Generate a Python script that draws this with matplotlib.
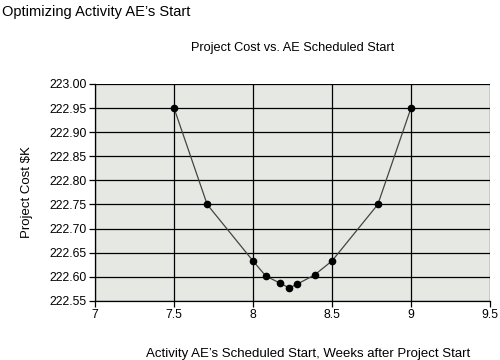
import matplotlib
matplotlib.use("Agg")
import matplotlib.pyplot as plt
from matplotlib.ticker import FormatStrFormatter

plt.rcParams['font.family'] = ['Liberation Sans', 'DejaVu Sans']

# data
start_weeks = [7.5, 7.71, 8.0, 8.08, 8.17, 8.23, 8.28, 8.39, 8.5, 8.79, 9.0]
cost_k = [222.95, 222.75, 222.633, 222.602, 222.587, 222.577, 222.585, 222.604, 222.633, 222.75, 222.95]

x_ticks = [7, 7.5, 8, 8.5, 9, 9.5]
y_ticks = [222.55, 222.60, 222.65, 222.70, 222.75, 222.80, 222.85, 222.90, 222.95, 223.00]

fig = plt.figure(figsize=(5, 3.6), dpi=100)
ax = fig.add_axes([0.19, 0.164, 0.79, 0.603])
ax.set_facecolor("#e6e9e3")

ax.plot(start_weeks, cost_k, color="#444444", linewidth=0.9, marker="o",
        markersize=4.5, markerfacecolor="black", markeredgecolor="black", zorder=3)

ax.set_xlim(7, 9.5)
ax.set_ylim(222.55, 223.00)
ax.set_xticks(x_ticks)
ax.set_xticklabels(["7", "7.5", "8", "8.5", "9", "9.5"])
ax.set_yticks(y_ticks)
ax.yaxis.set_major_formatter(FormatStrFormatter("%.2f"))
ax.grid(True, color="black", linewidth=0.9)
ax.set_axisbelow(True)
for s in ["top", "right"]:
    ax.spines[s].set_visible(False)
ax.spines["left"].set_linewidth(0.9)
ax.spines["bottom"].set_linewidth(0.9)
ax.tick_params(direction="out", length=4, width=0.9, labelsize=8.8, pad=2)

ax.set_title("Project Cost vs. AE Scheduled Start", fontsize=9.2, pad=24)
ax.set_xlabel("Activity AE\u2019s Scheduled Start, Weeks after Project Start", fontsize=9.5,
              labelpad=19, x=0.54)
ax.set_ylabel("Project Cost $K", fontsize=9.5, labelpad=12)

fig.text(0.004, 0.985, "Optimizing Activity AE\u2019s Start", fontsize=10.5, va="top", ha="left")

fig.savefig("out.png", dpi=100)
